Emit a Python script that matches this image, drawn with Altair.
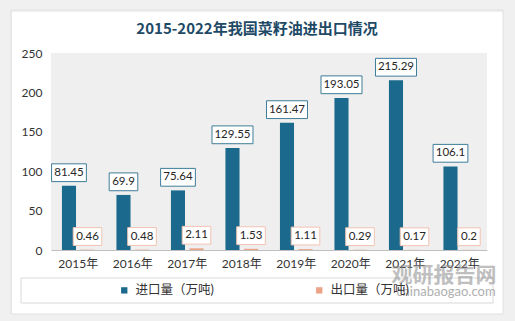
import altair as alt
import pandas as pd

years = ["2015年", "2016年", "2017年", "2018年", "2019年", "2020年", "2021年", "2022年"]
imports = [81.45, 69.9, 75.64, 129.55, 161.47, 193.05, 215.29, 106.1]
exports = [0.46, 0.48, 2.11, 1.53, 1.11, 0.29, 0.17, 0.2]
series = ["进口量（万吨)", "出口量（万吨)"]
bar_colors = ["#1b6a8d", "#eba385"]
box_colors = ["#3f7d99", "#f2c3b1"]
title_text = "2015-2022年我国菜籽油进出口情况"
y_ticks = [0, 50, 100, 150, 200, 250]

rows = []
for y, v in zip(years, imports):
    rows.append({"year": y, "series": series[0], "value": v, "label": str(v)})
for y, v in zip(years, exports):
    rows.append({"year": y, "series": series[1], "value": v, "label": str(v)})
df = pd.DataFrame(rows)

FONT = "Lato, Noto Sans CJK SC"
W, H = 436, 197

x_enc = alt.X("year:N", sort=years,
              scale=alt.Scale(paddingInner=0.32, paddingOuter=0.16),
              axis=alt.Axis(title=None, labelAngle=0, ticks=False, domain=True,
                            domainColor="#bfbfbf", labelPadding=8, labelFontSize=12,
                            labelColor="#333333", labelFont=FONT))
xo_enc = alt.XOffset("series:N", sort=series,
                     scale=alt.Scale(paddingInner=0.24, paddingOuter=0.12))
y_enc = alt.Y("value:Q", scale=alt.Scale(domain=[0, 250]),
              axis=alt.Axis(title=None, values=y_ticks, grid=False, domain=False,
                            ticks=False, tickSize=0, labelPadding=9, labelFontSize=12,
                            labelColor="#333333", labelFont=FONT))

base = alt.Chart(df)

bars = base.mark_bar().encode(
    x=x_enc, xOffset=xo_enc, y=y_enc,
    color=alt.Color("series:N", sort=series,
                    scale=alt.Scale(domain=series, range=bar_colors),
                    legend=alt.Legend(orient="none", legendX=67, legendY=231,
                                      direction="horizontal", title=None,
                                      symbolType="square", symbolSize=40,
                                      symbolStrokeWidth=0,
                                      labelFontSize=12.5, labelFont=FONT,
                                      labelColor="#333333", columnPadding=99,
                                      labelOffset=5, padding=0)),
)

boxes = base.transform_calculate(
    dot="indexof(datum.label, '.') >= 0 ? 1 : 0"
).transform_calculate(
    hw="(6.2 * (length(datum.label) - datum.dot) + 3 * datum.dot + 7) / 20"
).transform_calculate(
    path="'M' + (-datum.hw) + ',-2.2H' + datum.hw + 'V-0.42H' + (-datum.hw) + 'Z'"
).mark_point(size=400, filled=False, fill="white", fillOpacity=1, strokeWidth=1,
             opacity=1).encode(
    x=x_enc, xOffset=xo_enc, y=y_enc,
    shape=alt.Shape("path:N", scale=None),
    stroke=alt.Stroke("series:N", scale=alt.Scale(domain=series, range=box_colors),
                      legend=None),
)

labels = base.mark_text(dy=-13, baseline="middle", fontSize=11.5, font=FONT,
                        color="#262626").encode(
    x=x_enc, xOffset=xo_enc, y=y_enc, text="label:N"
)

one = pd.DataFrame({"k": [0]})
shadow = alt.Chart(one).mark_rect(fill=None, stroke="#f0f0f0", strokeWidth=22).encode(
    x=alt.value(-50), x2=alt.value(463), y=alt.value(-52), y2=alt.value(272))
card = alt.Chart(one).mark_rect(fill=None, stroke="#e0e0e0", strokeWidth=1).encode(
    x=alt.value(-40), x2=alt.value(452), y=alt.value(-43), y2=alt.value(261))
legend_box = alt.Chart(one).mark_rect(fill=None, stroke="#d9d9d9", strokeWidth=1).encode(
    x=alt.value(-30), x2=alt.value(442), y=alt.value(225), y2=alt.value(250))
title = alt.Chart(one).mark_text(text=title_text, fontSize=15, fontWeight="bold",
                                 font="Noto Sans CJK SC", color="#1e4a66",
                                 baseline="middle", align="center").encode(
    x=alt.value(206), y=alt.value(-24))
wm1 = alt.Chart(one).mark_text(text="观研报告网", fontSize=21, fontWeight="bold",
                               font="Noto Sans CJK SC", color="#8c8c8c",
                               opacity=0.55).encode(
    x=alt.value(393), y=alt.value(223))
wm2 = alt.Chart(one).mark_text(text="chinabaogao.com", fontSize=13, font=FONT,
                               color="#7a7a7a", opacity=0.6).encode(
    x=alt.value(395), y=alt.value(239))

chart = alt.layer(shadow, card, legend_box, title, bars, boxes, labels, wm1, wm2).resolve_scale(
    stroke="independent"
).properties(
    width=W, height=H,
    autosize=alt.AutoSizeParams(type="none"),
    padding={"left": 51, "top": 53, "right": 28, "bottom": 71},
    background="white",
).configure_view(fill="#efefef", stroke=None)

chart.save("out.html", embed_options={"renderer": "svg", "actions": False})
